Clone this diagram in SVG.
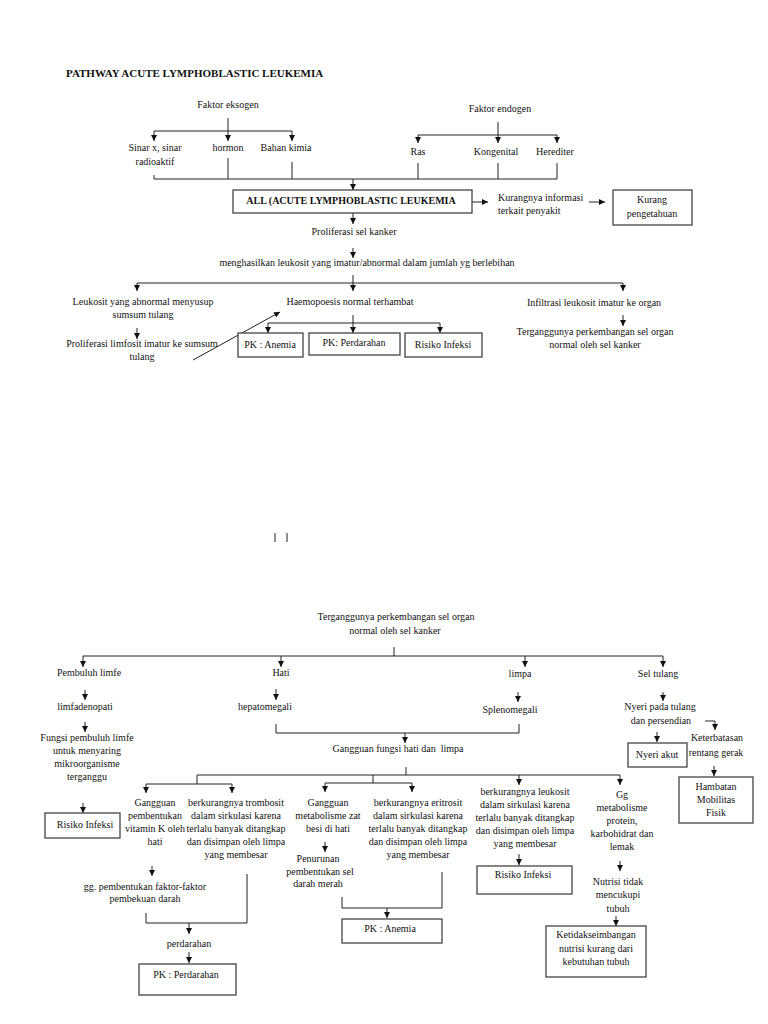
<svg xmlns="http://www.w3.org/2000/svg" width="768" height="1024" viewBox="0 0 768 1024">
<defs>
<marker id="ah" markerWidth="6" markerHeight="6" refX="6" refY="3" orient="auto" markerUnits="userSpaceOnUse">
<path d="M0,0 L6,3 L0,6 z" fill="#111"/>
</marker>
<clipPath id="clipvk"><rect x="100" y="790" width="86" height="60"/></clipPath>
<style>
text{font-family:"Liberation Serif","Times New Roman",serif;font-size:10px;fill:#111;text-anchor:middle}
.l{text-anchor:start}
.b{font-weight:bold}
.t{font-size:11px}
.box{fill:#fff;stroke:#444;stroke-width:1.3}
.c path{fill:none;stroke:#222;stroke-width:1}
.c path.a{marker-end:url(#ah)}
</style>
</defs>
<rect width="768" height="1024" fill="#fff"/>

<text class="l b t" x="66" y="77">PATHWAY ACUTE LYMPHOBLASTIC LEUKEMIA</text>

<g class="c" id="connectors">
<path d="M154,131 H292"/>
<path class="a" d="M228,118 V141"/>
<path class="a" d="M154,131 V141"/>
<path class="a" d="M292,131 V141"/>
<path d="M418,135 H557"/>
<path class="a" d="M498,122 V143"/>
<path class="a" d="M418,135 V143"/>
<path class="a" d="M557,135 V143"/>
<path d="M154,175 V179 M228,158 V179 M292,162 V179 M418,163 V179 M498,163 V179 M557,163 V179 M154,179 H557"/>
<path class="a" d="M353,179 V190"/>
<path class="a" d="M472,202 H488"/>
<path class="a" d="M589,202 H605"/>
<path class="a" d="M353,213 V224"/>
<path class="a" d="M353,248 V258"/>
<path d="M353,275 V283 M137,283 H623"/>
<path class="a" d="M137,283 V291"/>
<path class="a" d="M353,283 V291"/>
<path class="a" d="M623,283 V291"/>
<path class="a" d="M137,328 V339"/>
<path class="a" d="M193,360 L280,312"/>
<path d="M353,315 V323 M268,323 H440"/>
<path class="a" d="M268,323 V333"/>
<path class="a" d="M353,323 V333"/>
<path class="a" d="M440,323 V333"/>
<path class="a" d="M623,315 V326"/>
<path d="M275,533 V542 M287,533 V542"/>
<path d="M394,647 V656 M83,656 H663"/>
<path class="a" d="M83,656 V667"/>
<path class="a" d="M281,656 V667"/>
<path class="a" d="M525,656 V667"/>
<path class="a" d="M663,656 V667"/>
<path class="a" d="M85,690 V700"/>
<path class="a" d="M85,722 V732"/>
<path class="a" d="M276,689 V700"/>
<path class="a" d="M518,692 V702"/>
<path d="M276,724 V733 H519 V724"/>
<path class="a" d="M405,733 V743"/>
<path d="M406,767 V775 M197,775 H620"/>
<path d="M197,775 V784 M146,784 H232"/>
<path class="a" d="M146,784 V793"/>
<path class="a" d="M232,784 V793"/>
<path d="M373,775 V783 M325,783 H412"/>
<path class="a" d="M325,783 V792"/>
<path class="a" d="M412,783 V792"/>
<path class="a" d="M519,775 V785"/>
<path class="a" d="M620,775 V785"/>
<path class="a" d="M83,803 V813"/>
<path class="a" d="M152,866 V876"/>
<path d="M146,913 V923 H247 V874"/>
<path class="a" d="M189,923 V934"/>
<path class="a" d="M189,952 V963"/>
<path class="a" d="M325,842 V852"/>
<path d="M342,897 V908 H442 V872"/>
<path class="a" d="M387,908 V918"/>
<path class="a" d="M519,854 V865"/>
<path class="a" d="M620,861 V871"/>
<path class="a" d="M616,916 V926"/>
<path class="a" d="M663,692 V701"/>
<path class="a" d="M657,732 V742"/>
<path class="a" d="M705,721 H715 V730"/>
<path class="a" d="M714,766 V776"/>
</g>

<g id="faktor-eksogen"><text x="228" y="108">Faktor eksogen</text></g>
<g id="sinar"><text x="155" y="151">Sinar x, sinar</text><text x="155" y="165">radioaktif</text></g>
<g id="hormon"><text x="228" y="151">hormon</text></g>
<g id="bahan-kimia"><text x="286" y="151">Bahan kimia</text></g>
<g id="faktor-endogen"><text x="500" y="112">Faktor endogen</text></g>
<g id="ras"><text x="418" y="155">Ras</text></g>
<g id="kongenital"><text x="496" y="155">Kongenital</text></g>
<g id="herediter"><text x="555" y="155">Herediter</text></g>

<g id="all"><rect class="box" x="233" y="190" width="239" height="23"/><text class="b" x="351" y="204">ALL (ACUTE LYMPHOBLASTIC LEUKEMIA</text></g>
<g id="kurang-informasi"><text class="l" x="498" y="201">Kurangnya informasi</text><text class="l" x="498" y="214">terkait penyakit</text></g>
<g id="kurang-pengetahuan"><rect class="box" x="613" y="190" width="79" height="35"/><text x="652" y="203">Kurang</text><text x="652" y="217">pengetahuan</text></g>
<g id="proliferasi"><text x="354" y="235">Proliferasi sel kanker</text></g>
<g id="menghasilkan"><text x="367" y="266">menghasilkan leukosit yang imatur/abnormal dalam jumlah yg berlebihan</text></g>
<g id="leukosit-menyusup"><text x="143" y="305">Leukosit yang abnormal menyusup</text><text x="143" y="318">sumsum tulang</text></g>
<g id="proliferasi-limfosit"><text x="142" y="347">Proliferasi limfosit imatur ke sumsum</text><text x="142" y="360">tulang</text></g>
<g id="haemopoesis"><text x="350" y="305">Haemopoesis normal terhambat</text></g>
<g id="pk-anemia-1"><rect class="box" x="238" y="333" width="65" height="24"/><text x="270" y="348">PK : Anemia</text></g>
<g id="pk-perdarahan-1"><rect class="box" x="309" y="333" width="91" height="22"/><text x="354" y="346">PK: Perdarahan</text></g>
<g id="risiko-infeksi-1"><rect class="box" x="405" y="333" width="77" height="24"/><text x="443" y="348">Risiko Infeksi</text></g>
<g id="infiltrasi"><text x="594" y="306">Infiltrasi leukosit imatur ke organ</text></g>
<g id="terganggunya-1"><text x="595" y="335">Terganggunya perkembangan sel organ</text><text x="595" y="348">normal oleh sel kanker</text></g>

<g id="terganggunya-2"><text x="396" y="620">Terganggunya perkembangan sel organ</text><text x="395" y="634">normal oleh sel kanker</text></g>
<g id="pembuluh-limfe"><text x="89" y="676">Pembuluh limfe</text></g>
<g id="hati"><text x="281" y="676">Hati</text></g>
<g id="limpa"><text x="520" y="677">limpa</text></g>
<g id="sel-tulang"><text x="658" y="677">Sel tulang</text></g>
<g id="limfadenopati"><text x="85" y="710">limfadenopati</text></g>
<g id="fungsi-limfe"><text x="87" y="741">Fungsi pembuluh limfe</text><text x="87" y="754">untuk menyaring</text><text x="87" y="767">mikroorganisme</text><text x="87" y="780">terganggu</text></g>
<g id="hepatomegali"><text x="265" y="710">hepatomegali</text></g>
<g id="splenomegali"><text x="510" y="713">Splenomegali</text></g>
<g id="gangguan-fungsi"><text x="398" y="752" xml:space="preserve">Gangguan fungsi hati dan  limpa</text></g>
<g id="risiko-infeksi-2"><rect class="box" x="45" y="813" width="75" height="25"/><text x="85" y="828">Risiko Infeksi</text></g>
<g id="gangguan-vitk" clip-path="url(#clipvk)"><text x="155" y="806">Gangguan</text><text x="155" y="819">pembentukan</text><text x="155" y="832">vitamin K oleh</text><text x="155" y="845">hati</text></g>
<g id="trombosit"><text x="236" y="806">berkurangnya trombosit</text><text x="236" y="819">dalam sirkulasi karena</text><text x="236" y="832">terlalu banyak ditangkap</text><text x="236" y="845">dan disimpan oleh limpa</text><text x="236" y="858">yang membesar</text></g>
<g id="gg-faktor"><text x="145" y="890">gg. pembentukan faktor-faktor</text><text x="145" y="902">pembekuan darah</text></g>
<g id="perdarahan"><text x="189" y="947">perdarahan</text></g>
<g id="pk-perdarahan-2"><rect class="box" x="139" y="964" width="97" height="31"/><text x="186" y="978">PK : Perdarahan</text></g>
<g id="gangguan-besi"><text x="328" y="806">Gangguan</text><text x="328" y="819">metabolisme zat</text><text x="328" y="832">besi di hati</text></g>
<g id="penurunan"><text x="318" y="862">Penurunan</text><text x="320" y="875">pembentukan sel</text><text x="318" y="887">darah merah</text></g>
<g id="eritrosit"><text x="418" y="806">berkurangnya eritrosit</text><text x="418" y="819">dalam sirkulasi karena</text><text x="418" y="832">terlalu banyak ditangkap</text><text x="418" y="845">dan disimpan oleh limpa</text><text x="418" y="858">yang membesar</text></g>
<g id="pk-anemia-2"><rect class="box" x="342" y="919" width="100" height="24"/><text x="390" y="932">PK : Anemia</text></g>
<g id="leukosit"><text x="525" y="795">berkurangnya leukosit</text><text x="525" y="808">dalam sirkulasi karena</text><text x="525" y="821">terlalu banyak ditangkap</text><text x="525" y="834">dan disimpan oleh limpa</text><text x="525" y="847">yang membesar</text></g>
<g id="risiko-infeksi-3"><rect class="box" x="477" y="866" width="95" height="28"/><text x="523" y="878">Risiko Infeksi</text></g>
<g id="gg-metabolisme"><text x="622" y="798">Gg</text><text x="622" y="811">metabolisme</text><text x="622" y="824">protein,</text><text x="622" y="837">karbohidrat dan</text><text x="622" y="850">lemak</text></g>
<g id="nutrisi"><text x="618" y="885">Nutrisi tidak</text><text x="618" y="898">mencukupi</text><text x="618" y="912">tubuh</text></g>
<g id="ketidakseimbangan"><rect class="box" x="546" y="926" width="100" height="51"/><text x="596" y="938">Ketidakseimbangan</text><text x="596" y="952">nutrisi kurang dari</text><text x="596" y="965">kebutuhan tubuh</text></g>
<g id="nyeri-tulang"><text x="660" y="710">Nyeri pada tulang</text><text x="661" y="724">dan persendian</text></g>
<g id="nyeri-akut"><rect class="box" x="628" y="743" width="59" height="24"/><text x="657" y="758">Nyeri akut</text></g>
<g id="keterbatasan"><text x="717" y="741">Keterbatasan</text><text x="716" y="756">rentang gerak</text></g>
<g id="hambatan"><rect class="box" x="679" y="777" width="74" height="46"/><text x="716" y="790">Hambatan</text><text x="716" y="803">Mobilitas</text><text x="716" y="816">Fisik</text></g>
</svg>
